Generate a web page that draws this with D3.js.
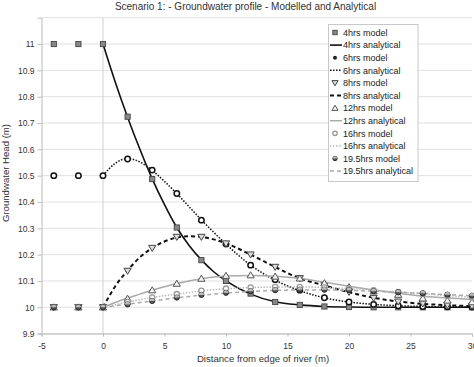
<!DOCTYPE html>
<html><head><meta charset="utf-8">
<script src="https://cdn.jsdelivr.net/npm/d3@7"></script>
<style>body{margin:0;background:#fff} svg{display:block;font-family:"Liberation Sans",Arial,sans-serif}</style>
</head><body><svg id="c" width="474" height="367"></svg>
<script>
const title = "Scenario 1: - Groundwater profile - Modelled and Analytical";
const xTitle = "Distance from edge of river (m)";
const yTitle = "Groundwater Head (m)";
const xTicks = [-5,0,5,10,15,20,25,30];
const yTicks = [9.9,10,10.1,10.2,10.3,10.4,10.5,10.6,10.7,10.8,10.9,11];

const modelX = [-4,-2,0,2,4,6,8,10,12,14,16,18,20,22,24,26,28,30];
const model4  = [11,11,11,10.724,10.487,10.303,10.179,10.100,10.052,10.020,10.009,10.003,10.001,10.0,10.0,10.0,10.0,10.0];
const model6  = [10.5,10.5,10.5,10.563,10.521,10.432,10.331,10.240,10.160,10.105,10.065,10.036,10.020,10.011,10.006,10.003,10.002,10.001];
const model8  = [10,10,10,10.138,10.225,10.267,10.267,10.242,10.200,10.153,10.110,10.084,10.058,10.035,10.021,10.014,10.008,10.005];
const model12 = [10,10,10,10.033,10.065,10.090,10.109,10.120,10.122,10.117,10.110,10.092,10.077,10.061,10.048,10.034,10.026,10.020];
const model16 = [10,10,10,10.020,10.037,10.050,10.063,10.071,10.075,10.077,10.077,10.075,10.071,10.065,10.058,10.051,10.044,10.038];
const model19 = [10,10,10,10.011,10.024,10.037,10.047,10.055,10.061,10.065,10.067,10.067,10.065,10.061,10.057,10.053,10.048,10.044];

const analyticX = [0,1,2,3,4,5,6,7,8,9,10,12,14,16,18,20,22,24,26,28,30];
const analytic4  = [11,10.855,10.722,10.600,10.488,10.390,10.303,10.235,10.180,10.135,10.100,10.050,10.021,10.009,10.003,10.001,10.0,10.0,10.0,10.0,10.0];
const analytic6  = [10.5,10.547,10.565,10.552,10.520,10.478,10.432,10.382,10.332,10.285,10.240,10.160,10.103,10.063,10.036,10.020,10.011,10.006,10.003,10.001,10.001];
const analytic8  = [10,10.080,10.140,10.190,10.225,10.250,10.265,10.270,10.267,10.258,10.243,10.200,10.153,10.110,10.083,10.057,10.036,10.022,10.013,10.008,10.004];
const analytic12 = [10,10.018,10.035,10.050,10.065,10.078,10.090,10.100,10.108,10.115,10.119,10.121,10.118,10.110,10.095,10.080,10.066,10.053,10.042,10.035,10.030];
const analytic16 = [10,10.010,10.020,10.029,10.037,10.044,10.050,10.056,10.062,10.067,10.070,10.075,10.077,10.077,10.075,10.071,10.065,10.058,10.051,10.044,10.038];
const analytic19 = [10,10.006,10.012,10.018,10.024,10.030,10.036,10.041,10.046,10.050,10.054,10.060,10.064,10.066,10.066,10.064,10.061,10.057,10.053,10.048,10.044];

const names = ["4hrs","6hrs","8hrs","12hrs","16hrs","19.5hrs"];
const modelSets = [model4,model6,model8,model12,model16,model19];
const analyticSets = [analytic4,analytic6,analytic8,analytic12,analytic16,analytic19];

const lineStyles = [
  {stroke:"#111", width:1.6, dash:null},
  {stroke:"#111", width:1.5, dash:"1.5,1.5"},
  {stroke:"#111", width:2,   dash:"4,3"},
  {stroke:"#aaa", width:1.5, dash:null},
  {stroke:"#bbb", width:1.5, dash:"1.5,1.5"},
  {stroke:"#aaa", width:1.5, dash:"4,3"}
];

const svg = d3.select("#c");
const x = d3.scaleLinear().domain([-5,30]).range([41.5,472]);
const y = d3.scaleLinear().domain([9.9,11.1]).range([333.6,17.7]);

// gridlines
svg.append("g").selectAll("line").data(yTicks.concat([11.1])).join("line")
  .attr("x1",x(-5)).attr("x2",x(30)).attr("y1",d=>y(d)).attr("y2",d=>y(d))
  .attr("stroke","#e0e0e0").attr("stroke-width",1);
svg.append("line").attr("x1",x(0)).attr("x2",x(0)).attr("y1",y(11.1)).attr("y2",y(9.9))
  .attr("stroke","#d0d0d0").attr("stroke-width",1);

// axes
const fmt = d => String(+d.toFixed(1));
const ya = svg.append("g").attr("transform",`translate(${x(-5)},0)`)
  .call(d3.axisLeft(y).tickValues(yTicks).tickSize(4).tickFormat(fmt));
const xa = svg.append("g").attr("transform",`translate(0,${y(9.9)})`)
  .call(d3.axisBottom(x).tickValues(xTicks).tickSize(3).tickFormat(d=>d));
[ya,xa].forEach(a=>{
  a.select(".domain").attr("stroke","#bbb");
  a.selectAll(".tick line").attr("stroke","#bbb");
  a.selectAll("text").attr("fill","#333").style("font-size","8.5px").style("font-family","'Liberation Sans',Arial,sans-serif");
});
xa.selectAll("text").attr("dy","1.1em");

// titles
svg.append("text").attr("x",245.5).attr("y",10).attr("text-anchor","middle")
  .attr("font-size",10).attr("fill","#333").text(title);
svg.append("text").attr("x",263).attr("y",362).attr("text-anchor","middle")
  .attr("font-size",9.6).attr("fill","#333").text(xTitle);
svg.append("text").attr("transform","translate(9,173) rotate(-90)").attr("text-anchor","middle")
  .attr("font-size",9.6).attr("fill","#333").text(yTitle);

// marker drawers
function marker(g, i, cx, cy, legend){
  const s = legend ? 0.85 : 1;
  if(i===0){
    g.append("rect").attr("x",cx-2.6*s).attr("y",cy-2.6*s).attr("width",5.2*s).attr("height",5.2*s)
      .attr("fill","#888").attr("stroke","#444").attr("stroke-width",0.9);
  } else if(i===1){
    if(legend) g.append("circle").attr("cx",cx).attr("cy",cy).attr("r",2).attr("fill","#222");
    else g.append("circle").attr("cx",cx).attr("cy",cy).attr("r",2.7).attr("fill","#fff").attr("stroke","#111").attr("stroke-width",1.5);
  } else if(i===2){
    const r=3.6*s;
    g.append("path").attr("d",`M${cx-r},${cy-r*0.75}L${cx+r},${cy-r*0.75}L${cx},${cy+r*0.95}Z`)
      .attr("fill","#ddd").attr("stroke","#444").attr("stroke-width",1);
  } else if(i===3){
    const r=3.6*s;
    g.append("path").attr("d",`M${cx-r},${cy+r*0.75}L${cx+r},${cy+r*0.75}L${cx},${cy-r*0.95}Z`)
      .attr("fill","#f4f4f4").attr("stroke","#555").attr("stroke-width",1);
  } else if(i===4){
    g.append("circle").attr("cx",cx).attr("cy",cy).attr("r",2.6*s).attr("fill","#fff").attr("stroke","#999").attr("stroke-width",1.3);
  } else {
    g.append("circle").attr("cx",cx).attr("cy",cy).attr("r",2.6*s).attr("fill","#555").attr("stroke","#222").attr("stroke-width",0.9);
    g.append("path").attr("d",`M${cx-2.6*s},${cy}A${2.6*s},${2.6*s} 0 0 1 ${cx+2.6*s},${cy}Z`).attr("fill","#bbb");
  }
}

const line = d3.line().x(d=>x(d[0])).y(d=>y(d[1])).curve(d3.curveMonotoneX);
const plot = svg.append("g");
names.forEach((n,i)=>{
  const st = lineStyles[i];
  plot.append("path").datum(analyticX.map((v,k)=>[v,analyticSets[i][k]]))
    .attr("d",line).attr("fill","none").attr("stroke",st.stroke).attr("stroke-width",st.width)
    .attr("stroke-dasharray",st.dash);
  const mg = plot.append("g");
  modelX.forEach((v,k)=>marker(mg,i,x(v),y(modelSets[i][k]),false));
});
// draw 4hrs markers on top of their line order handled above

// legend
const lg = svg.append("g");
lg.append("rect").attr("x",328.5).attr("y",24.5).attr("width",89.5).attr("height",157)
  .attr("fill","#fff").attr("stroke","#c8c8c8");
names.forEach((n,i)=>{
  const yM = 32.5 + 12.6*(2*i), yA = 32.5 + 12.6*(2*i+1);
  marker(lg,i,335,yM,true);
  lg.append("text").attr("x",343).attr("y",yM+3.2).attr("font-size",9).attr("fill","#222").text(n+" model");
  const st = lineStyles[i];
  lg.append("line").attr("x1",330).attr("x2",342).attr("y1",yA).attr("y2",yA)
    .attr("stroke",st.stroke).attr("stroke-width",st.width).attr("stroke-dasharray",st.dash);
  lg.append("text").attr("x",343).attr("y",yA+3.2).attr("font-size",9).attr("fill","#222").text(n+" analytical");
});
</script></body></html>
